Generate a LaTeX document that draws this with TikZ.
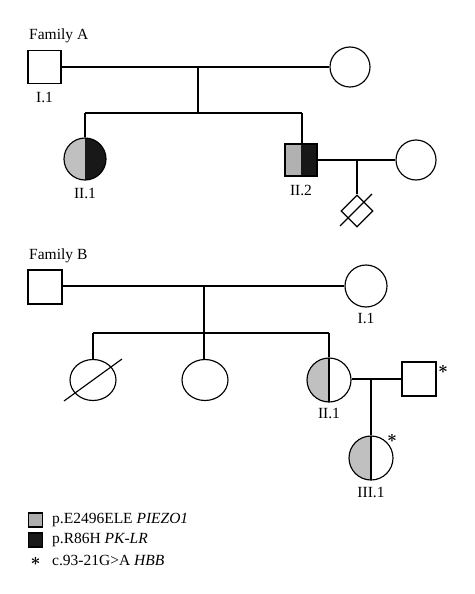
\documentclass[tikz,border=0pt]{standalone}
\usepackage{fontspec}
\setmainfont{Liberation Serif}
\usetikzlibrary{shapes.geometric}
\definecolor{gfill}{RGB}{192,192,192}
\definecolor{bfill}{RGB}{24,24,24}
\tikzset{
  every node/.style={font=\fontsize{15.5}{18}\selectfont},
  lw/.style={line width=1.15pt},
  male/.style={draw, lw, rectangle, minimum size=33pt, inner sep=0pt},
  female/.style={draw, lw, circle, minimum size=41pt, inner sep=0pt},
  oval/.style={draw, lw, ellipse, minimum width=46pt, minimum height=41pt, inner sep=0pt},
  twohalves/.style 2 args={path picture={
    \fill[#1] (path picture bounding box.south west) rectangle (path picture bounding box.north);
    \fill[#2] (path picture bounding box.south) rectangle (path picture bounding box.north east);}},
  halfline/.style={path picture={
    \fill[#1] (path picture bounding box.south west) rectangle (path picture bounding box.north);
    \draw[lw] (path picture bounding box.south) -- (path picture bounding box.north);}},
  lab/.style={inner sep=0pt},
  star/.style={inner sep=0pt, font=\fontsize{16}{16}\selectfont\boldmath},
}
\begin{document}
\begin{tikzpicture}[x=1pt,y=-1pt]
\useasboundingbox (0,0) rectangle (474,594);
% ---------- Family A ----------
\node[lab, anchor=base west] (famA) at (29,40) {Family A};
\node[male] (aI1) at (44.5,67) {};
\node[lab] (aI1l) at (44.5,97) {I.1};
\node[female, minimum size=40pt] (aI2) at (350,67) {};
\draw[lw] (aI1) -- (aI2);
\coordinate (aJ) at (198,67);
\coordinate (aS) at (198,113);
\coordinate (aSL) at (85,113);
\coordinate (aSR) at (302,113);
\draw[lw] (aJ) -- (aS);
\draw[lw] (aSL) -- (aSR);
\node[female, minimum size=42pt, twohalves={gfill}{bfill}] (aII1) at (85,159) {};
\node[lab] (aII1l) at (85,193) {II.1};
\node[male, minimum size=32pt, twohalves={gfill!92!black}{bfill}] (aII2) at (301,160) {};
\node[lab] (aII2l) at (301,190) {II.2};
\draw[lw] (aSL) -- (aII1.north);
\draw[lw] (aSR) -- (aSR |- aII2.north);
\node[female, minimum size=40pt] (aII3) at (416,160) {};
\draw[lw] (aII2) -- (aII3);
\coordinate (aJ2) at (357,160);
\node[draw, lw, diamond, aspect=1, minimum size=32pt, inner sep=0pt] (aIII) at (357,211) {};
\draw[lw] (aJ2) -- (aIII.north);
\coordinate (aX1) at (340,226);
\coordinate (aX2) at (372,194);
\draw[lw] (aX1) -- (aX2);
% ---------- Family B ----------
\node[lab, anchor=base west] (famB) at (29,259) {Family B};
\node[male, minimum size=34pt] (bI1) at (45,287) {};
\node[female, minimum size=42pt] (bI2) at (366,286) {};
\node[lab] (bI2l) at (366,318) {I.1};
\draw[lw] (bI1.east |- bI2) -- (bI2);
\coordinate (bJ) at (204,286);
\coordinate (bS) at (204,333);
\coordinate (bSL) at (93,333);
\coordinate (bSR) at (329,333);
\draw[lw] (bJ) -- (bS);
\draw[lw] (bSL) -- (bSR);
\node[oval] (bII1) at (93,380) {};
\node[oval] (bII2) at (205,380) {};
\node[female, minimum size=44pt, halfline=gfill] (bII3) at (329,380) {};
\node[lab] (bII3l) at (329,413) {II.1};
\draw[lw] (bSL) -- (bII1.north);
\draw[lw] (bS) -- (bS |- bII2.north);
\draw[lw] (bSR) -- (bII3.north);
\coordinate (bX1) at (64,401);
\coordinate (bX2) at (122,359);
\draw[lw] (bX1) -- (bX2);
\node[male, minimum size=34pt] (bII4) at (419,379) {};
\node[star] (bII4s) at (443,369) {$\ast$};
\draw[lw] (bII3.east |- bII4) -- (bII4);
\coordinate (bJ2) at (371,379);
\node[female, minimum size=44pt, halfline=gfill] (bIII1) at (371,458) {};
\node[star] (bIII1s) at (392,438) {$\ast$};
\node[lab] (bIII1l) at (371,492) {III.1};
\draw[lw] (bJ2) -- (bIII1.north);
% ---------- Legend ----------
\node[draw, lw, fill=gfill!90!black, minimum size=14pt, inner sep=0pt] (lg1) at (35.5,520) {};
\node[draw, lw, fill=bfill, minimum size=14pt, inner sep=0pt] (lg2) at (35.5,540) {};
\node[star] (lg3) at (35.5,561) {$\ast$};
\node[lab, anchor=west] (lt1) at (52,520) {p.E2496ELE \textit{PIEZO1}};
\node[lab, anchor=west] (lt2) at (52,540) {p.R86H \textit{PK-LR}};
\node[lab, anchor=west] (lt3) at (52,560) {c.93-21G>A \textit{HBB}};
\end{tikzpicture}
\end{document}
